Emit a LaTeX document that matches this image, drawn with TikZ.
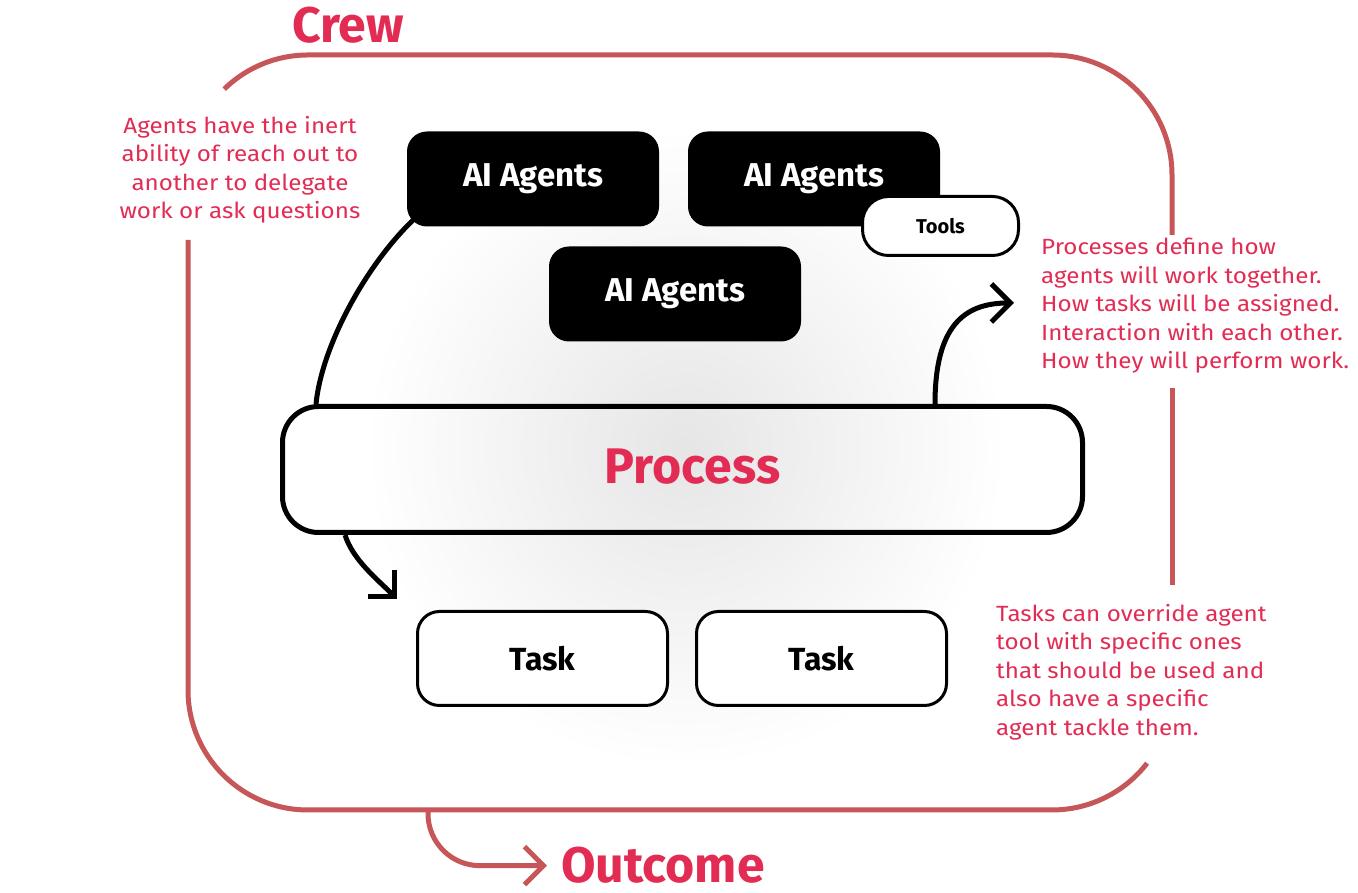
\documentclass[tikz,border=0pt]{standalone}
\usepackage{fontspec}
\setmainfont{Fira Sans}
\newfontfamily\notefont{Fira Sans}[FakeStretch=1.1]
\usetikzlibrary{arrows.meta}
\definecolor{framered}{RGB}{198,86,88}
\definecolor{txtred}{RGB}{226,44,84}
\begin{document}
\begin{tikzpicture}[x=1pt,y=1pt,
  agent/.style={fill=black, text=white, rounded corners=20pt, minimum width=252pt, minimum height=95pt, inner sep=0pt, font=\fontsize{33}{38}\selectfont\bfseries},
  taskbox/.style={draw=black, line width=3pt, fill=white, rounded corners=22pt, minimum width=250pt, minimum height=94pt, inner sep=0pt, font=\fontsize{32}{38}\selectfont\bfseries},
  toolbox/.style={draw=black, line width=3pt, fill=white, rounded corners=26pt, minimum width=156pt, minimum height=59pt, inner sep=0pt, font=\fontsize{20}{24}\selectfont\bfseries},
  procbox/.style={draw=black, line width=5pt, rounded corners=36pt, minimum width=800pt, minimum height=126pt, inner sep=0pt},
  note/.style={text=txtred, inner sep=0pt, font=\notefont\fontsize{22}{28.5}\selectfont},
  title/.style={text=txtred, inner sep=0pt, font=\fontsize{50}{60}\selectfont\bfseries},
  frame/.style={draw=framered, line width=5pt},
  conn/.style={draw=black, line width=5pt},
  barb/.style={-{Straight Barb[length=19pt,width=38pt]}}
]
\useasboundingbox (0,0) rectangle (1358,893);
\fill[white] (0,0) rectangle (1358,893);
% soft glow
\shade[inner color=black!10, outer color=white] (685,445) circle (320);

% crew frame
\draw[frame] (224.2,803.9) arc[start angle=134.3, end angle=90, radius=120] -- (1052,838) arc[start angle=90, end angle=0, radius=120] -- (1172,658);
\draw[frame] (1172,505) -- (1172,308);
\draw[frame] (1147.1,129.8) arc[start angle=-37.6, end angle=-90, radius=120] -- (308,83) arc[start angle=-90, end angle=-180, radius=120] -- (188,653);

\node[title, anchor=base west] (crew) at (292,850) {Crew};
\node[title, anchor=base west] (outcome) at (561,10) {Outcome};
\coordinate (obase) at (428,83);
\draw[frame, rounded corners=52pt, barb] (obase) |- ([xshift=-14pt]outcome.west);

% agents
\node[agent] (a1) at (533,714) {AI Agents};
\node[agent] (a2) at (814,714) {AI Agents};
\node[agent] (a3) at (675,599) {AI Agents};
\node[toolbox] (tools) at (940.5,667) {Tools};

% process
\node[procbox] (proc) at (682.5,423.5) {};
\node[title, anchor=center] (proctext) at ([xshift=10pt,yshift=3pt]proc.center) {Process};

% tasks
\node[taskbox] (t1) at (542.5,234.5) {Task};
\node[taskbox] (t2) at (821.5,234.5) {Task};

% connectors
\draw[conn] ([xshift=12pt,yshift=12pt]a1.south west) .. controls +(-50,-45) and +(6,60) .. ([xshift=36pt]proc.north west);
\coordinate (rtip) at (1014,590);
\draw[conn, barb] ([xshift=-150pt]proc.north east) .. controls +(0,78) and +(-50,0) .. (rtip);
\coordinate (ltip) at (397,294);
\draw[conn, barb] ([xshift=65pt]proc.south west) .. controls +(8,-25) and +(-20,20) .. (ltip);

% notes
\node[note, anchor=north, align=center] (n1) at (240,777) {Agents have the inert\\ability of reach out to\\another to delegate\\work or ask questions};
\node[note, anchor=north west, align=left] (n2) at (1041,655) {Processes define how\\agents will work together.\\How tasks will be assigned.\\Interaction with each other.\\How they will perform work.};
\node[note, anchor=north west, align=left] (n3) at (996,289) {Tasks can override agent\\tool with specific ones\\that should be used and\\also have a specific\\agent tackle them.};
\end{tikzpicture}
\end{document}
